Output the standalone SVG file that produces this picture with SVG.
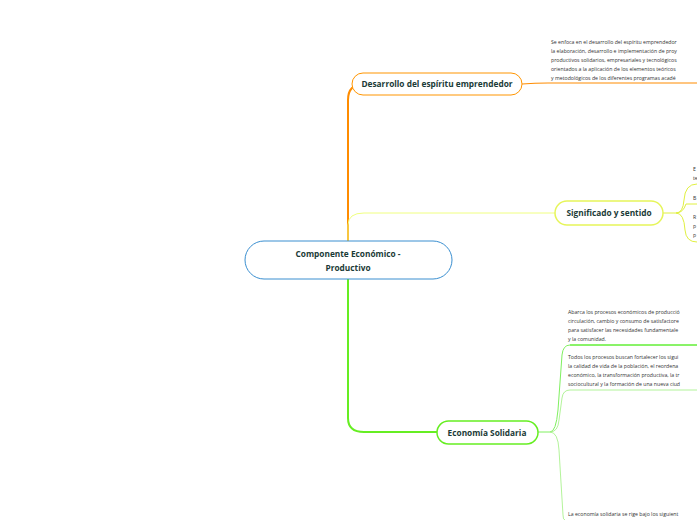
<svg xmlns="http://www.w3.org/2000/svg" width="697" height="520" viewBox="0 0 697 520">
<style>
.n{font-family:"Open Sans","Noto Sans",sans-serif;font-weight:bold;font-size:8.3px;fill:#1b3b37;text-anchor:middle}
.t{font-family:"Open Sans","Noto Sans",sans-serif;font-size:5.2px;fill:#333}
.c{fill:none}
</style>
<rect width="697" height="520" fill="#fff"/>
<g id="connectors">
<path class="c" d="M348 241 V100 Q348 84 364 84" stroke="#ff8c00" stroke-width="2"/>
<path class="c" d="M522 84 Q535 83 548 83 H697" stroke="#ff8c00" stroke-width="1.2"/>
<path class="c" d="M348 241 V225 Q348 213 364 213 H555" stroke="#f0ff80" stroke-width="1"/>
<path class="c" d="M663 213 H676 Q683 213 684 200 Q685 184 697 184 M676 213 Q683 213 686 204 H697 M676 213 Q684 213 685 230 Q686 242 697 242" stroke="#e0f040" stroke-width="1"/>
<path class="c" d="M348 279 V418 Q348 432 364 432 H437" stroke="#66ee22" stroke-width="2"/>
<path class="c" d="M538 432 H550 Q556 432 558 410 L562 355 Q563 345 570 345 H697" stroke="#80f060" stroke-width="1"/>
<path class="c" d="M550 432 Q558 432 559 420 L562 398 Q563 390 570 390 H697" stroke="#a0f080" stroke-width="0.8"/>
<path class="c" d="M550 432 Q558 432 559 450 L563 515 Q563 520 565 520" stroke="#a0f080" stroke-width="0.8"/>
<path d="M570 345 H697" stroke="#55ee22" stroke-width="1.2"/>
</g>
<g id="center">
<rect x="245" y="241" width="207" height="38" rx="19" fill="#fff" stroke="#3a8fd0" stroke-width="1"/>
<text class="n" x="348" y="257" font-size="9.5">Componente Económico -</text>
<text class="n" x="348" y="271" font-size="9.5">Productivo</text>
</g>
<g id="n1">
<rect x="352" y="73" width="170" height="22" rx="11" fill="#fff" stroke="#ff9500" stroke-width="1"/>
<text class="n" x="437" y="87">Desarrollo del espíritu emprendedor</text>
<text class="t" x="551" y="44">Se enfoca en el desarrollo del espíritu emprendedor</text>
<text class="t" x="551" y="53">la elaboración, desarrollo e implementación de proy</text>
<text class="t" x="551" y="62">productivos solidarios, empresariales y tecnológicos</text>
<text class="t" x="551" y="71">orientados a la aplicación de los elementos teóricos</text>
<text class="t" x="551" y="80">y metodológicos de los diferentes programas acadé</text>
</g>
<g id="n2">
<rect x="555" y="201" width="108" height="24" rx="12" fill="#fff" stroke="#e6f55a" stroke-width="1.5"/>
<text class="n" x="609" y="216">Significado y sentido</text>
<text class="t" x="693" y="171">E</text>
<text class="t" x="693" y="180">te</text>
<text class="t" x="693" y="200">B</text>
<text class="t" x="693" y="219">R</text>
<text class="t" x="693" y="228">p</text>
<text class="t" x="693" y="237">p</text>
</g>
<g id="n3">
<rect x="437" y="421" width="101" height="23" rx="11.5" fill="#fff" stroke="#66ee22" stroke-width="1.5"/>
<text class="n" x="487" y="436">Economía Solidaria</text>
<text class="t" x="568" y="314">Abarca los procesos económicos de producció</text>
<text class="t" x="568" y="323">circulación, cambio y consumo de satisfactore</text>
<text class="t" x="568" y="332">para satisfacer las necesidades fundamentale</text>
<text class="t" x="568" y="341">y la comunidad.</text>
<text class="t" x="568" y="359">Todos los procesos buscan fortalecer los sigui</text>
<text class="t" x="568" y="368">la calidad de vida de la población, el reordena</text>
<text class="t" x="568" y="377">económico, la transformación productiva, la tr</text>
<text class="t" x="568" y="386">sociocultural y la formación de una nueva ciud</text>
<text class="t" x="568" y="516">La economía solidaria se rige bajo los siguient</text>
</g>
</svg>
